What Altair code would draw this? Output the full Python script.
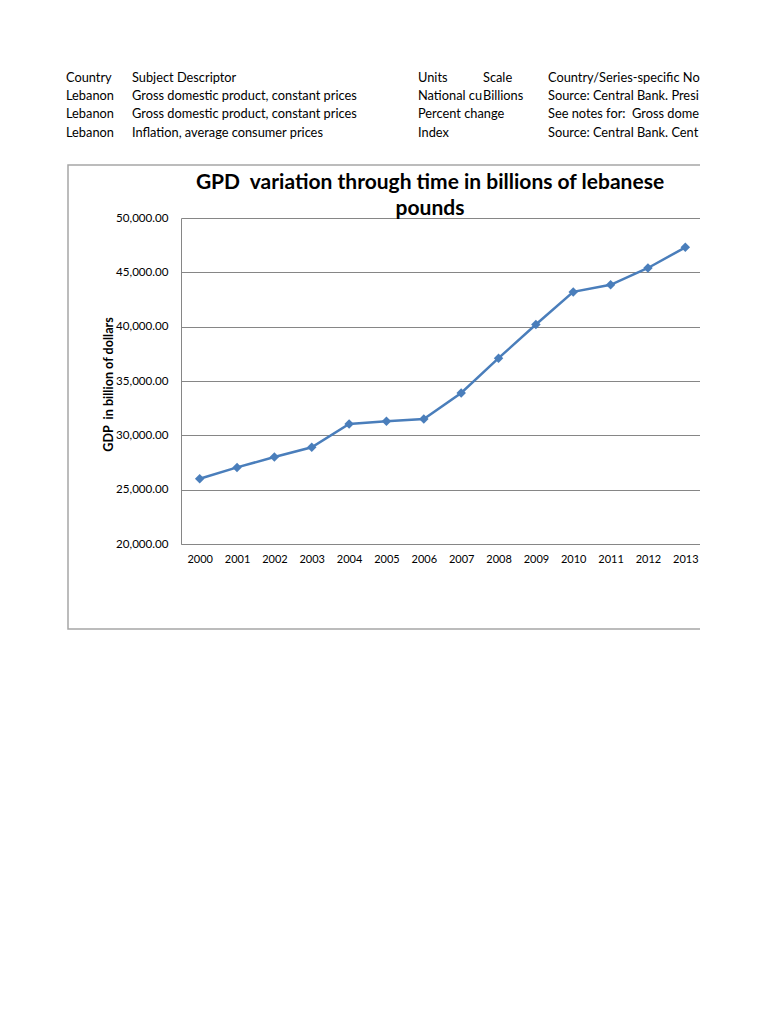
import altair as alt
import pandas as pd

# ---- data ----
years = ["2000", "2001", "2002", "2003", "2004", "2005", "2006",
         "2007", "2008", "2009", "2010", "2011", "2012", "2013"]
gdp = [26000, 27050, 28000, 28900, 31050, 31300, 31500,
       33900, 37100, 40200, 43200, 43850, 45400, 47300]
y_ticks = [20000, 25000, 30000, 35000, 40000, 45000, 50000]

head_country = ["Country", "Lebanon", "Lebanon", "Lebanon"]
head_subject = ["Subject Descriptor",
                "Gross domestic product, constant prices",
                "Gross domestic product, constant prices",
                "Inflation, average consumer prices"]
head_units = ["Units", "National cu", "Percent change", "Index"]
head_scale = ["Scale", "Billions", "", ""]
head_notes = ["Country/Series-specific No", "Source: Central Bank. Presi",
              "See notes for:\u00a0 Gross dome", "Source: Central Bank. Cent"]

title_lines = ["GPD\u00a0 variation through time in billions of lebanese", "pounds"]
y_title = "GDP\u00a0 in billion of dollars"

df = pd.DataFrame({"year": years, "gdp": gdp})

FONT = "Lato"
BLUE = "#4a7ebb"
GRID = "#868686"
OX, OY = 181, 218  # plot origin on page (used for annotation offsets)

dummy = alt.Data(values=[{}])

border = alt.Chart(dummy).mark_rect(
    fillOpacity=0, stroke="#a6a6a6", strokeWidth=1.5
).encode(
    x=alt.value(68 - OX), x2=alt.value(900),
    y=alt.value(165 - OY), y2=alt.value(629 - OY),
)

base = alt.Chart(df).encode(
    x=alt.X("year:O", sort=years,
            scale=alt.Scale(type="point", padding=0.5, range=[0, 523]),
            axis=alt.Axis(title=None, labelAngle=0, ticks=False,
                          domainColor=GRID, labelFont=FONT, labelFontSize=11,
                          labelColor="black", labelPadding=9)),
    y=alt.Y("gdp:Q",
            scale=alt.Scale(domain=[20000, 50000], nice=False, zero=False),
            axis=alt.Axis(values=y_ticks, format=",.2f", ticks=False,
                          domainColor=GRID, gridColor=GRID, grid=True,
                          labelFont=FONT, labelFontSize=11.6, labelColor="black",
                          labelPadding=13, title=y_title, titleFont=FONT,
                          titleFontSize=12.6, titleFontWeight="bold",
                          titleColor="black", titleAngle=270,
                          titleX=-69, titleY=166, titleAlign="center",
                          titleBaseline="alphabetic")),
)

line = base.mark_line(color=BLUE, strokeWidth=2.5)
pts = base.mark_point(shape="diamond", size=90, filled=True, color=BLUE, opacity=1)

title = alt.Chart(dummy).mark_text(
    text="\n".join(title_lines), lineBreak="\n", lineHeight=26,
    font=FONT, fontSize=21, fontWeight="bold", align="center",
    baseline="alphabetic", color="black"
).encode(x=alt.value(430 - OX), y=alt.value(189 - OY))

layers = [border]
for xpos, col in [(66, head_country), (132, head_subject), (418, head_units),
                  (483, head_scale), (548, head_notes)]:
    layers.append(
        alt.Chart(dummy).mark_text(
            text="\n".join(col), lineBreak="\n", lineHeight=18.2,
            font=FONT, fontSize=12.8, align="left", baseline="alphabetic",
            color="black"
        ).encode(x=alt.value(xpos - OX), y=alt.value(82 - OY))
    )
layers += [title, line, pts]

chart = alt.layer(*layers).properties(
    width=519, height=326,
    autosize=alt.AutoSizeParams(type="none"),
    padding={"left": 173, "top": 210, "right": 0, "bottom": 120},
).configure_view(strokeWidth=0)

chart.save("out.html", embed_options={"renderer": "svg", "actions": False})
